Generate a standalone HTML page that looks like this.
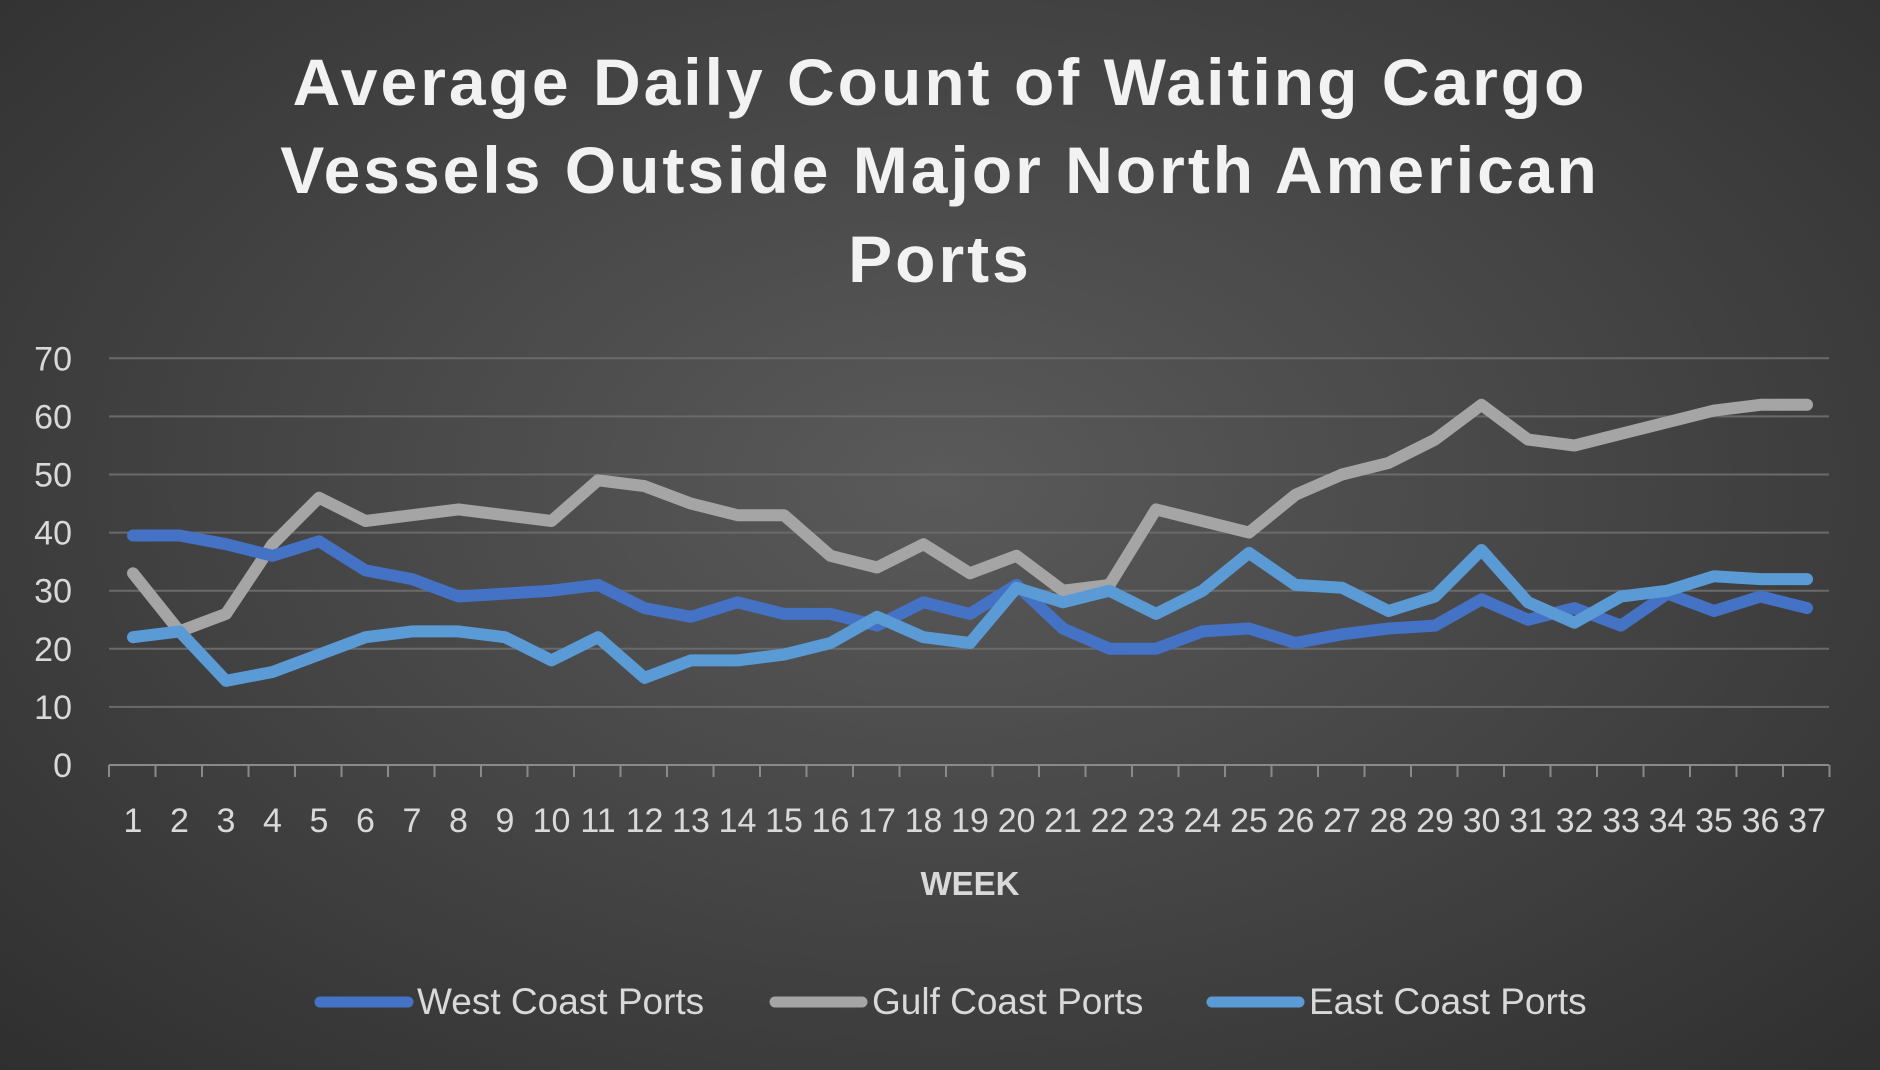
<!DOCTYPE html>
<html><head><meta charset="utf-8"><style>
html,body{margin:0;padding:0;width:1880px;height:1070px;overflow:hidden}
body{background:radial-gradient(ellipse at 50% 45%,#5a5a5a 0%,#474747 45%,#2f2f2f 100%);font-family:"Liberation Sans",sans-serif}
</style></head><body>
<svg id="s" width="1880" height="1070" xmlns="http://www.w3.org/2000/svg" style="position:absolute;left:0;top:0">
<g font-family="Liberation Sans, sans-serif" font-weight="bold" fill="#f2f2f2" font-size="66" text-anchor="middle" letter-spacing="3">
<text x="940" y="105">Average Daily Count of Waiting Cargo</text>
<text x="940" y="193">Vessels Outside Major North American</text>
<text x="940" y="282">Ports</text>
</g>
<g id="grid" stroke="#6a6a6a" stroke-width="2"></g>
<g id="ylab" font-family="Liberation Sans, sans-serif" fill="#d9d9d9" font-size="34" text-anchor="end"></g>
<g id="xlab" font-family="Liberation Sans, sans-serif" fill="#d9d9d9" font-size="34" text-anchor="middle"></g>
<text x="970" y="895" font-family="Liberation Sans, sans-serif" font-weight="bold" fill="#d9d9d9" font-size="33" text-anchor="middle">WEEK</text>
<g id="lines" fill="none" stroke-width="12" stroke-linejoin="round" stroke-linecap="round"></g>
<g font-family="Liberation Sans, sans-serif" fill="#d9d9d9" font-size="37" stroke-linecap="round">
<line x1="320" y1="1002" x2="408" y2="1002" stroke="#4472c4" stroke-width="11"/>
<text x="417" y="1014">West Coast Ports</text>
<line x1="775" y1="1002" x2="862" y2="1002" stroke="#a5a5a5" stroke-width="11"/>
<text x="872" y="1014">Gulf Coast Ports</text>
<line x1="1212" y1="1002" x2="1299" y2="1002" stroke="#5b9bd5" stroke-width="11"/>
<text x="1309" y="1014">East Coast Ports</text>
</g>
</svg>
<script>
var NS="http://www.w3.org/2000/svg";
function el(p,t,a,txt){var e=document.createElementNS(NS,t);for(var k in a)e.setAttribute(k,a[k]);if(txt!==undefined)e.textContent=txt;document.getElementById(p).appendChild(e);}
var X0=133,DX=46.5,Y0=765,SY=5.81;
for(var v=0;v<=70;v+=10){var y=Y0-v*SY;
 if(v>0)el("grid","line",{x1:109,x2:1829,y1:y,y2:y});
 el("ylab","text",{x:72,y:y+12},String(v));}
el("grid","line",{x1:109,x2:1829,y1:Y0,y2:Y0,stroke:"#8a8a8a"});
for(var i=0;i<=37;i++){var x=109+i*46.5;el("grid","line",{x1:x,x2:x,y1:Y0,y2:Y0+12,stroke:"#8a8a8a"});}
for(var i=1;i<=37;i++)el("xlab","text",{x:X0+(i-1)*DX,y:832},String(i));
var d={
"#a5a5a5":[33,23,26,38,46,42,43,44,43,42,49,48,45,43,43,36,34,38,33,36,30,31,44,42,40,46.5,50,52,56,62,56,55,57,59,61,62,62],
"#4472c4":[39.5,39.5,38,36,38.5,33.5,32,29,29.5,30,31,27,25.5,28,26,26,24,28,26,31,23.5,20,20,23,23.5,21,22.5,23.5,24,28.5,25,27,24,29.5,26.5,29,27],
"#5b9bd5":[22,23,14.5,16,19,22,23,23,22,18,22,15,18,18,19,21,25.5,22,21,30.5,28,30,26,30,36.5,31,30.5,26.5,29,37,28,24.5,29,30,32.5,32,32]};
for(var c in d){var p=d[c].map(function(v,i){return (X0+i*DX).toFixed(1)+","+(Y0-v*SY).toFixed(1)}).join(" ");
 el("lines","polyline",{points:p,stroke:c});}
</script>
</body></html>
